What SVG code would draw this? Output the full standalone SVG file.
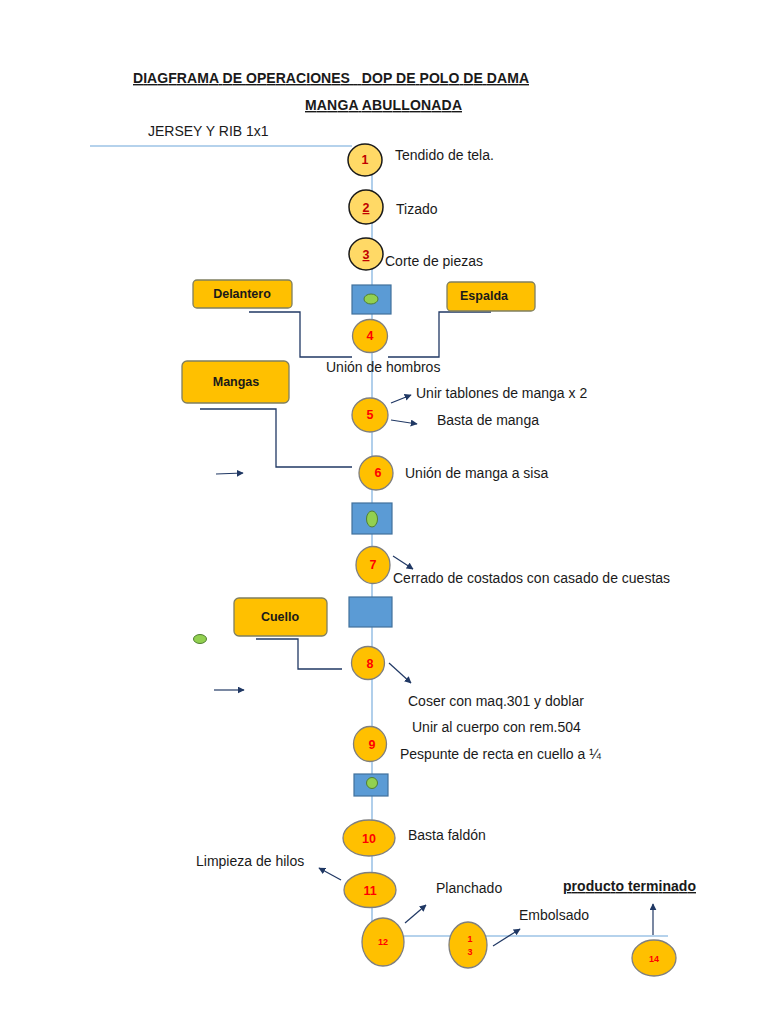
<svg xmlns="http://www.w3.org/2000/svg" width="768" height="1024" viewBox="0 0 768 1024">
<style>
text{font-family:"Liberation Sans",Arial,sans-serif;fill:#1a1a1a}
.t{font-size:14px}
.h{font-size:14px;font-weight:bold;text-decoration:underline;white-space:pre}
.bx{fill:#FFC000;stroke:#7F7F60;stroke-width:1.3}
.bt{font-size:12.5px;font-weight:bold;text-anchor:middle}
.op{fill:#FFC000;stroke:#7F7F7F;stroke-width:1.3}
.op0{fill:#FFD966;stroke:#1a1a1a;stroke-width:1.5}
.n{font-size:12.5px;font-weight:bold;fill:#FF0000;text-anchor:middle}
.n0{font-size:12.5px;font-weight:bold;fill:#C00000;text-anchor:middle}
.sq{fill:#5B9BD5;stroke:#41719C;stroke-width:1.2}
.gr{fill:#92D050;stroke:#507E32;stroke-width:1}
.flow{stroke:#9DC3E6;stroke-width:1.6;fill:none}
.cn{stroke:#203864;stroke-width:1.3;fill:none}
.ar{stroke:#203864;stroke-width:1.2;fill:none;marker-end:url(#ah)}
</style>
<defs>
<marker id="ah" viewBox="0 0 10 10" refX="9" refY="5" markerWidth="7" markerHeight="7" orient="auto" markerUnits="userSpaceOnUse">
<path d="M0,0 L10,5 L0,10 z" fill="#203864"/>
</marker>
</defs>
<rect width="768" height="1024" fill="#fff"/>

<g id="titles">
<text class="h" x="133" y="83" textLength="396" lengthAdjust="spacing">DIAGFRAMA DE OPERACIONES   DOP DE POLO DE DAMA</text>
<text class="h" x="305" y="110" textLength="157" lengthAdjust="spacing">MANGA ABULLONADA</text>
<text class="t" x="148" y="136">JERSEY Y RIB 1x1</text>
</g>

<g id="connectors">
<path class="flow" d="M90,146 H352"/>
<path class="flow" d="M372,146 V936"/>
<path class="flow" d="M404,936 H668"/>
<path class="cn" d="M249,312 H300 V357 H352"/>
<path class="cn" d="M491,312 H439 V357 H388"/>
<path class="cn" d="M200,409 H276 V467 H352"/>
<path class="cn" d="M256,639 H298 V669 H342"/>
<path class="ar" d="M391,403 L411,395"/>
<path class="ar" d="M391,420 L417,424"/>
<path class="ar" d="M216,474 L243,473"/>
<path class="ar" d="M393,556 L413,569"/>
<path class="ar" d="M389,663 L411,683"/>
<path class="ar" d="M214,690 L244,690"/>
<path class="ar" d="M341,880 L319,868"/>
<path class="ar" d="M405,923 L426,905"/>
<path class="ar" d="M493,946 L520,929"/>
<path class="ar" d="M653,935 L653,904"/>
</g>

<g id="op1">
<ellipse class="op0" cx="365" cy="160" rx="17" ry="16"/>
<text class="n0" x="365" y="164">1</text>
<text class="t" x="395" y="160">Tendido de tela.</text>
</g>
<g id="op2">
<ellipse class="op0" cx="366" cy="207" rx="17" ry="17"/>
<text class="n0" x="366" y="212" text-decoration="underline">2</text>
<text class="t" x="396" y="214">Tizado</text>
</g>
<g id="op3">
<ellipse class="op0" cx="366" cy="254" rx="17" ry="16"/>
<text class="n0" x="366" y="259" text-decoration="underline">3</text>
<text class="t" x="385" y="266">Corte de piezas</text>
</g>

<g id="insp1">
<rect class="sq" x="352" y="285" width="39" height="29"/>
<ellipse class="gr" cx="371" cy="299" rx="7" ry="5"/>
</g>

<g id="delantero">
<rect class="bx" x="193" y="280" width="99" height="28" rx="4"/>
<text class="bt" x="242" y="298">Delantero</text>
</g>
<g id="espalda">
<rect class="bx" x="447" y="282" width="88" height="29" rx="4"/>
<text class="bt" x="484" y="300">Espalda</text>
</g>

<g id="op4">
<ellipse class="op" cx="370" cy="336" rx="17.5" ry="16.5"/>
<text class="n" x="370" y="340">4</text>
<text class="t" x="326" y="372">Unión de hombros</text>
</g>

<g id="mangas">
<rect class="bx" x="182" y="361" width="107" height="42" rx="5"/>
<text class="bt" x="236" y="386">Mangas</text>
</g>

<g id="op5">
<ellipse class="op" cx="370" cy="415" rx="18" ry="17"/>
<text class="n" x="370" y="419">5</text>
<text class="t" x="416" y="398">Unir tablones de manga x 2</text>
<text class="t" x="437" y="425">Basta de manga</text>
</g>

<g id="op6">
<ellipse class="op" cx="376" cy="473" rx="17" ry="17"/>
<text class="n" x="378" y="477">6</text>
<text class="t" x="405" y="478">Unión de manga a sisa</text>
</g>

<g id="insp2">
<rect class="sq" x="352" y="503" width="40" height="31"/>
<ellipse class="gr" cx="372" cy="519" rx="5.5" ry="8"/>
</g>

<g id="op7">
<ellipse class="op" cx="373" cy="565" rx="17" ry="18.5"/>
<text class="n" x="373" y="569">7</text>
<text class="t" x="393" y="583">Cerrado de costados con casado de cuestas</text>
</g>

<g id="insp3">
<rect class="sq" x="349" y="597" width="43" height="30"/>
</g>

<g id="cuello">
<rect class="bx" x="234" y="598" width="93" height="38" rx="5"/>
<text class="bt" x="280" y="621">Cuello</text>
</g>
<g id="dot">
<ellipse class="gr" cx="200" cy="639" rx="6.5" ry="4.5"/>
</g>

<g id="op8">
<ellipse class="op" cx="368" cy="663" rx="16.5" ry="16.5"/>
<text class="n" x="370" y="668">8</text>
<text class="t" x="408" y="706">Coser con maq.301 y doblar</text>
<text class="t" x="412" y="732">Unir al cuerpo con rem.504</text>
</g>

<g id="op9">
<ellipse class="op" cx="370" cy="744" rx="16.5" ry="17.5"/>
<text class="n" x="372" y="749">9</text>
<text class="t" x="400" y="759">Pespunte de recta en cuello a ¼</text>
</g>

<g id="insp4">
<rect class="sq" x="354" y="774" width="34" height="22"/>
<ellipse class="gr" cx="372" cy="783" rx="5.5" ry="5.5"/>
</g>

<g id="op10">
<ellipse class="op" cx="369" cy="838" rx="26" ry="18"/>
<text class="n" x="369" y="843">10</text>
<text class="t" x="408" y="840">Basta faldón</text>
</g>

<g id="op11">
<ellipse class="op" cx="370" cy="890" rx="26" ry="17.5"/>
<text class="n" x="370" y="895">11</text>
<text class="t" x="196" y="866">Limpieza de hilos</text>
</g>

<g id="op12">
<ellipse class="op" cx="383" cy="942" rx="21" ry="24"/>
<text class="n" x="383" y="945" style="font-size:9px">12</text>
<text class="t" x="436" y="893">Planchado</text>
</g>

<g id="op13">
<ellipse class="op" cx="468" cy="945" rx="19" ry="23"/>
<text class="n" x="470" y="942" style="font-size:9px">1</text>
<text class="n" x="470" y="955" style="font-size:9px">3</text>
<text class="t" x="519" y="920">Embolsado</text>
</g>

<g id="op14">
<ellipse class="op" cx="654" cy="958" rx="22" ry="18"/>
<text class="n" x="654" y="962" style="font-size:9px">14</text>
<text class="h" x="563" y="891" textLength="133" lengthAdjust="spacing">producto terminado</text>
</g>
</svg>
